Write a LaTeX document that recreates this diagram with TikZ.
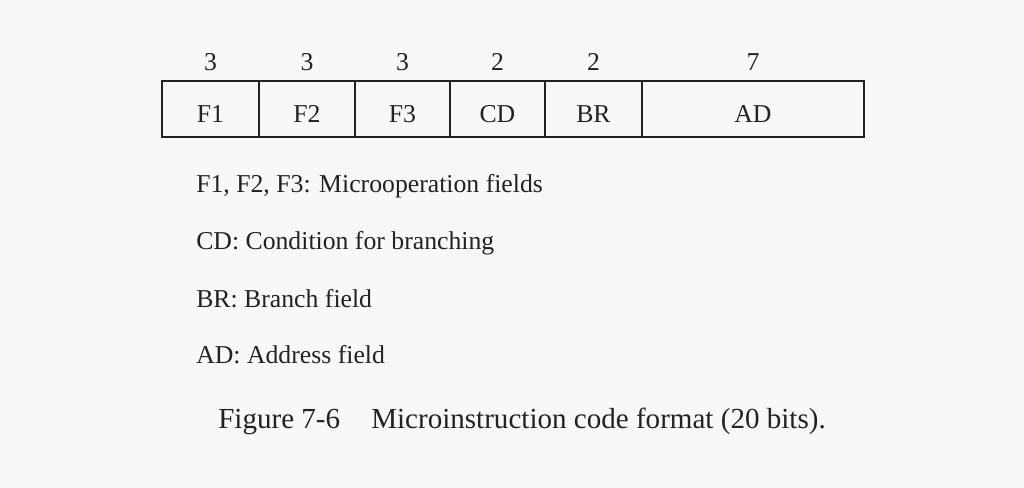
\documentclass[tikz,border=0pt]{standalone}
\usepackage{fontspec}
\setmainfont{Liberation Serif}
\definecolor{ink}{HTML}{222222}
\definecolor{paper}{HTML}{FAF8F6}
\begin{document}
\begin{tikzpicture}[x=0.75pt,y=-0.75pt,
  field/.style={draw=ink, line width=1.4pt, minimum height=42pt, inner sep=0pt,
    anchor=north west, font=\fontsize{19.3}{22}\selectfont, text=ink,
    text height=20.7pt, text depth=0pt},
  bits/.style={anchor=base, inner sep=0pt, font=\fontsize{19.3}{22}\selectfont, text=ink},
  legend/.style={anchor=base west, inner sep=0pt, font=\fontsize{19.3}{22}\selectfont, text=ink},
  caption/.style={anchor=base west, inner sep=0pt, font=\fontsize{21.8}{25}\selectfont, text=ink}]
\fill[paper] (0,0) rectangle (1024,488);
\useasboundingbox (0,0) rectangle (1024,488);
% fields
\node[field, minimum width=72.75pt] (F1) at (161,80) {F1};
\node[field, minimum width=72pt]    (F2) at (258,80) {F2};
\node[field, minimum width=71.25pt] (F3) at (354,80) {F3};
\node[field, minimum width=71.25pt] (CD) at (449,80) {CD};
\node[field, minimum width=72.75pt] (BR) at (544,80) {BR};
\node[field, minimum width=166.5pt] (AD) at (641,80) {AD};
% bit counts
\path (F1.north) ++(0,-9) node[bits] (nF1) {3};
\path (F2.north) ++(0,-9) node[bits] (nF2) {3};
\path (F3.north) ++(0,-9) node[bits] (nF3) {3};
\path (CD.north) ++(0,-9) node[bits] (nCD) {2};
\path (BR.north) ++(0,-9) node[bits] (nBR) {2};
\path (AD.north) ++(0,-9) node[bits] (nAD) {7};
% legend
\node[legend] (l1) at (196,193) {F1, F2, F3: Microoperation fields};
\node[legend] (l2) at (196,250) {CD: Condition for branching};
\node[legend] (l3) at (196,307) {BR: Branch field};
\node[legend] (l4) at (196,363) {AD: Address field};
% caption
\node[caption] (cap1) at (218,428) {Figure 7-6};
\node[caption] (cap2) at (371,428) {Microinstruction code format (20 bits).};
\end{tikzpicture}
\end{document}
